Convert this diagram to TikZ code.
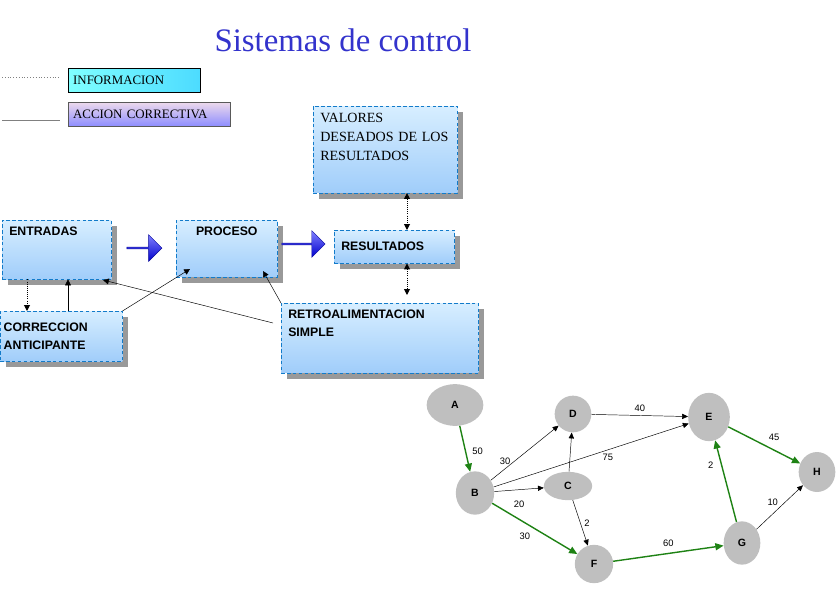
\documentclass[tikz,border=0pt]{standalone}
\usepackage{fontspec}
\setmainfont{Liberation Serif}
\newfontfamily\boxfont{Liberation Sans}
\usetikzlibrary{arrows.meta,shapes.arrows,shapes.geometric,shadows}
\definecolor{titleblue}{RGB}{51,51,204}
\definecolor{boxblue}{RGB}{160,205,250}
\definecolor{boxlight}{RGB}{215,238,255}
\definecolor{edgegreen}{RGB}{30,130,20}
\begin{document}
\begin{tikzpicture}[
    x=0.03cm, y=-0.03cm,
    % Styles
    block/.style={draw=cyan!60!blue, densely dashed, thin, top color=boxlight, bottom color=boxblue,
      drop shadow={shadow xshift=0.18cm, shadow yshift=-0.18cm, fill=gray!80, opacity=1},
      anchor=north west, align=left, inner sep=6pt, font=\boxfont\bfseries\fontsize{10.5}{15}\selectfont},
    legend/.style={draw=black, thick, anchor=north west, align=left, font=\fontsize{11}{13}\selectfont, minimum height=0.72cm, inner sep=4pt},
    info/.style={-{Triangle[length=5pt,width=5pt]}, densely dotted, thick},
    both-info/.style={{Triangle[length=5pt,width=5pt]}-{Triangle[length=5pt,width=5pt]}, densely dotted, thick},
    action/.style={-{Triangle[length=5pt,width=5pt]}, thin},
    flow/.style={single arrow, draw=blue!60!black, top color=blue!50, bottom color=blue!80!black,
      minimum height=1.05cm, minimum width=0.8cm, single arrow head extend=3pt, inner sep=0pt},
    vertex/.style={ellipse, fill=gray!50, font=\boxfont\bfseries\small, inner sep=0pt},
    edge/.style={-{Triangle[length=5pt,width=4.5pt]}, thin},
    path-edge/.style={-{Triangle[length=7pt,width=6pt]}, very thick, edgegreen},
    weight/.style={font=\boxfont\footnotesize},
]
\useasboundingbox (0,0) rectangle (839,590);

% Title
\node[font=\fontsize{28}{30}\selectfont, titleblue] (title) at (343,40) {Sistemas de control};

% Legend
\coordinate (info-a) at (2,77);
\coordinate (info-b) at (60,77);
\coordinate (act-a) at (2,120);
\coordinate (act-b) at (60,120);
\draw[dotted, gray] (info-a) -- (info-b);
\draw[gray] (act-a) -- (act-b);
\node[legend, left color=cyan!50, right color=cyan!80!blue!70, text width=3.68cm] (informacion) at (68,68) {INFORMACION};
\node[legend, top color=violet!15, bottom color=blue!45, text width=4.58cm, draw=gray!70!black] (accion) at (68,102) {ACCION CORRECTIVA};

% Control blocks
\node[block, font=\fontsize{12}{16}\selectfont, text width=3.9cm, minimum height=2.07cm] (valores) at (313,106) {VALORES\\DESEADOS DE LOS\\RESULTADOS\\[6pt]\mbox{}};
\node[block, text width=2.85cm, minimum height=1.5cm] (entradas) at (2,220) {ENTRADAS\\[16pt]\mbox{}};
\node[block, text width=2.61cm, minimum height=1.41cm, align=center] (proceso) at (176,220) {PROCESO\\[14pt]\mbox{}};
\node[block, text width=3.18cm, minimum height=0.99cm] (resultados) at (334,230) {RESULTADOS};
\node[block, text width=3.45cm, minimum height=1.5cm, inner sep=3pt] (correccion) at (0,311) {CORRECCION\\ANTICIPANTE};
\node[block, text width=5.49cm, minimum height=1.83cm] (retro) at (281,303) {RETROALIMENTACION\\SIMPLE\\[10pt]\mbox{}};

% Flow arrows
\node[flow] (flow-a) at (144,248) {};
\node[flow, minimum height=1.3cm] (flow-b) at (303,244) {};

% Information and corrective links
\coordinate (res-low) at (407,295);
\draw[both-info] (valores.south -| res-low) -- (resultados.north -| res-low);
\draw[both-info] (resultados.south -| res-low) -- (res-low);
\draw[info] (entradas.south -| 27,0) -- (correccion.north -| 27,0);
\draw[action] (correccion.north -| 68,0) -- (entradas.south -| 68,0);
\draw[action] (correccion.north east) -- (190,269);
\draw[action] (273,323) -- (103,280);
\draw[action] (retro.north west) -- (263,271);

% Graph
\node[vertex, minimum width=1.7cm, minimum height=1.25cm] (A) at (455,405) {A};
\node[vertex, minimum width=1.1cm, minimum height=1.1cm] (D) at (573,414) {D};
\node[vertex, minimum width=1.25cm, minimum height=1.45cm] (E) at (709,417) {E};
\node[vertex, minimum width=1.15cm, minimum height=1.3cm] (B) at (475,493) {B};
\node[vertex, minimum width=1.45cm, minimum height=0.85cm] (C) at (568,486) {C};
\node[vertex, minimum width=1.15cm, minimum height=1.15cm] (F) at (594,564) {F};
\node[vertex, minimum width=1.1cm, minimum height=1.3cm] (G) at (742,543) {G};
\node[vertex, minimum width=1.1cm, minimum height=1.2cm] (H) at (817,472) {H};

\draw[path-edge] (A) -- node[weight, black, pos=0.55, right=2pt] {50} (B);
\draw[edge] (B) -- node[weight, pos=0.35, left] {30} (D);
\draw[edge] (B) -- node[weight, pos=0.55, below right=-2pt] {75} (E);
\draw[edge] (B) -- node[weight, below=6pt] {20} (C);
\draw[edge] (C) -- (D);
\draw[edge] (C) -- node[weight, right] {2} (F);
\draw[path-edge] (B) -- node[weight, black, below left=0pt] {30} (F);
\draw[edge] (D) -- node[weight, above] {40} (E);
\draw[path-edge] (F) -- node[weight, black, above=2pt] {60} (G);
\draw[path-edge] (G) -- node[weight, black, left=3pt, pos=0.7] {2} (E);
\draw[path-edge] (E) -- node[weight, black, above right=0pt] {45} (H);
\draw[edge] (G) -- node[weight, above left=-2pt] {10} (H);
\end{tikzpicture}
\end{document}
